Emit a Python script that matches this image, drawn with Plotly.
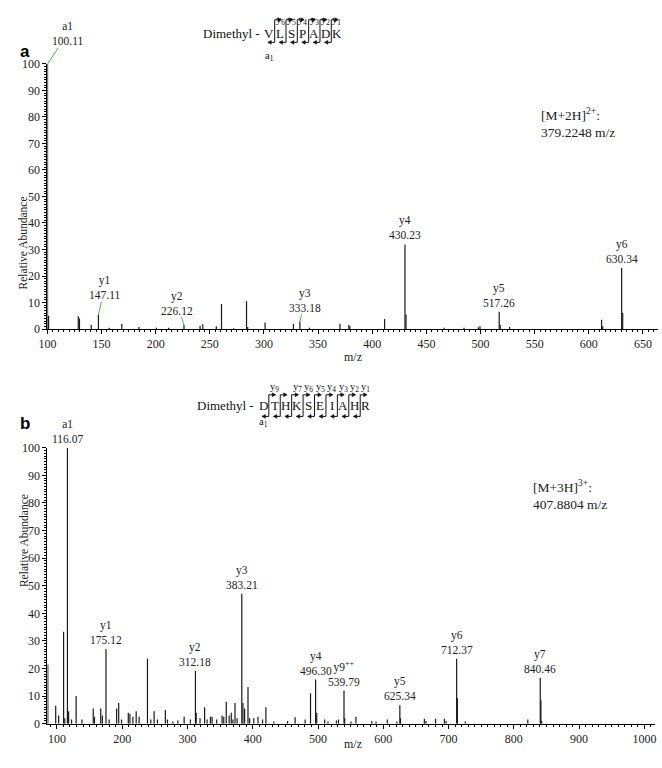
import plotly.graph_objects as go

# fig size
W, H = 662, 768

# ---- panel a : Dimethyl-VLSPADK ----
mz_a = [100.11, 101.1, 128.5, 129.6, 140.5, 147.11, 157.0, 168.7, 184.5, 200.7, 212.0,
        226.12, 241.0, 243.5, 256.0, 260.8, 272.0, 283.9, 285.0, 301.0, 327.2, 333.18,
        342.0, 370.2, 378.4, 379.4, 411.4, 430.23, 431.2, 466.4, 484.8, 498.0, 499.5,
        517.26, 518.2, 526.9, 611.8, 612.9, 630.34, 631.3]
ab_a = [100, 5, 4.8, 4, 1.5, 5.3, 0.5, 2, 0.8, 0.5, 0.5,
        1.5, 1.2, 1.8, 1, 9.4, 0.3, 10.6, 0.8, 2.5, 2, 2.8,
        0.5, 2, 1.5, 1, 3.8, 31.9, 5.5, 0.5, 0.5, 0.7, 1,
        6.5, 1.5, 0.8, 3.5, 1, 23, 6]
lab_a_mz = [100.11, 147.11, 226.12, 333.18, 430.23, 517.26, 630.34]
lab_a_ion = ["a1", "y1", "y2", "y3", "y4", "y5", "y6"]
pep_a = ["V", "L", "S", "P", "A", "D", "K"]
pep_a_y = ["6", "5", "4", "3", "2", "1"]
prec_a = "[M+2H]<sup>2+</sup>:<br>379.2248 m/z"

# ---- panel b : Dimethyl-DTHKSEIAHR ----
mz_b = [86.0, 98.1, 102.6, 110.2, 112.1, 116.07, 117.9, 122.4, 129.4, 138.3, 155.6, 157.5,
        167.1, 169.6, 175.12, 179.9, 191.4, 194.6, 199.0, 209.3, 211.8, 216.3, 221.4, 225.9,
        238.7, 243.8, 248.9, 254.0, 266.1, 269.3, 277.6, 285.3, 294.9, 304.5, 312.18, 313.4,
        319.2, 326.2, 330.0, 335.1, 337.7, 344.7, 353.0, 355.6, 359.4, 363.9, 367.1, 369.6,
        372.8, 376.0, 383.21, 385.0, 387.5, 392.7, 395.2, 401.6, 408.0, 415.0, 420.1, 432.3,
        453.4, 464.9, 480.2, 488.5, 496.30, 498.0, 510.2, 515.3, 528.1, 531.3, 539.79, 540.9,
        550.5, 558.1, 582.4, 588.8, 606.1, 620.8, 625.34, 626.3, 662.9, 665.5, 680.2, 693.6,
        696.2, 712.37, 713.5, 725.6, 821.4, 840.46, 841.5, 842.6]
ab_b = [21.5, 6.5, 3, 33.3, 2, 100, 4.5, 1.5, 10, 1.5, 5.5, 2.5,
        5.5, 3, 27, 1.5, 5.5, 7.5, 1.5, 4, 3.5, 2.5, 4.5, 2.5,
        23.5, 1.5, 4.5, 1.5, 5, 1.5, 0.8, 1.2, 2.5, 1.5, 19.2, 4,
        2, 6, 1.5, 2.5, 2.5, 1.5, 3, 2.5, 8, 3, 4, 1.5,
        7.5, 2, 47, 7.5, 5.5, 13.3, 2, 2, 2.5, 1.5, 6, 0.8,
        1, 2.3, 1.5, 11, 16, 4, 1.5, 0.8, 1.2, 1.5, 12, 2,
        0.8, 2.5, 1, 0.8, 1.5, 0.8, 6.7, 2, 1.8, 1, 1.8, 1.8,
        1, 23.5, 9.2, 0.8, 1.5, 16.7, 8.5, 1]
lab_b_mz = [116.07, 175.12, 312.18, 383.21, 496.30, 539.79, 625.34, 712.37, 840.46]
lab_b_ion = ["a1", "y1", "y2", "y3", "y4", "y9<sup>++</sup>", "y5", "y6", "y7"]
pep_b = ["D", "T", "H", "K", "S", "E", "I", "A", "H", "R"]
pep_b_y = ["9", "", "7", "6", "5", "4", "3", "2", "1"]
prec_b = "[M+3H]<sup>3+</sup>:<br>407.8804 m/z"

SERIF = "Liberation Serif"
GREEN = "#45bf45"


def px(x):
    return x / W


def py(y):
    return 1 - y / H


def sticks(mz, ab):
    xs, ys = [], []
    for m, a in zip(mz, ab):
        xs += [m, m, None]
        ys += [0, a, None]
    return xs, ys


fig = go.Figure()
for mz, ab, xa, ya in [(mz_a, ab_a, "x", "y"), (mz_b, ab_b, "x2", "y2")]:
    xs, ys = sticks(mz, ab)
    fig.add_trace(go.Scatter(x=xs, y=ys, mode="lines", xaxis=xa, yaxis=ya,
                             line=dict(color="#1a1a1a", width=1.2),
                             hoverinfo="skip", showlegend=False))

ax_style = dict(showline=True, linecolor="black", linewidth=1, ticks="outside",
                ticklen=4, tickwidth=1, tickcolor="black", showgrid=False, zeroline=False,
                tickfont=dict(family=SERIF, size=12, color="#222"))

fig.update_layout(
    width=W, height=H, margin=dict(l=0, r=0, t=0, b=0),
    plot_bgcolor="white", paper_bgcolor="white",
    xaxis=dict(ax_style, domain=[px(39), px(658.5)], range=[100, 663.5], anchor="y",
               dtick=50, tick0=100,
               minor=dict(dtick=5, ticks="outside", ticklen=2, tickcolor="black")),
    yaxis=dict(ax_style, domain=[py(328), py(58)], range=[0, 100], anchor="x",
               dtick=10, minor=dict(dtick=1, ticks="outside", ticklen=2, tickcolor="black")),
    xaxis2=dict(ax_style, domain=[px(39), px(656.4)], range=[85.4, 1017], anchor="y2",
                dtick=100, tick0=100,
                minor=dict(dtick=10, ticks="outside", ticklen=2, tickcolor="black")),
    yaxis2=dict(ax_style, domain=[py(730), py(449)], range=[0, 100], anchor="x2",
                dtick=10, minor=dict(dtick=1, ticks="outside", ticklen=2, tickcolor="black")),
)

ann = []
shapes = []

# leader-line offsets (pixels) for the labels with green lines in panel a
leaders = {"a1": (20, -30), "y1": (6, -27), "y2": (-7, -22), "y3": (5, -21.5)}


def peak_labels(mz, ab, lab_mz, lab_ion, xr, yr, lead):
    h = dict(zip(mz, ab))
    for m, ion in zip(lab_mz, lab_ion):
        txt = ion + "<br>" + f"{m:.2f}"
        base = dict(x=m, y=h[m], xref=xr, yref=yr, text=txt,
                    font=dict(family=SERIF, size=11.5, color="#222"))
        if ion in lead:
            dx, dy = lead[ion]
            ann.append(dict(base, showarrow=True, arrowhead=0, arrowwidth=1, borderpad=0,
                            arrowcolor=GREEN, ax=dx, ay=dy, standoff=0))
        else:
            ann.append(dict(base, showarrow=False, yanchor="bottom", yshift=1))


peak_labels(mz_a, ab_a, lab_a_mz, lab_a_ion, "x", "y", leaders)
peak_labels(mz_b, ab_b, lab_b_mz, lab_b_ion, "x2", "y2", {})


def line(x0, y0, x1, y1):
    shapes.append(dict(type="line", xref="paper", yref="paper", x0=px(x0), x1=px(x1),
                       y0=py(y0), y1=py(y1), line=dict(color="#111", width=1)))


def head(xt, y, d):
    # small filled arrow head, tip at xt, pointing right (d=1) or left (d=-1)
    b = xt - d * 3.5
    path = (f"M {px(xt)},{py(y)} L {px(b)},{py(y - 2)} L {px(b)},{py(y + 2)} Z")
    shapes.append(dict(type="path", xref="paper", yref="paper", path=path,
                       fillcolor="#111", line=dict(color="#111", width=0.5)))


def peptide(letters, ylabs, x0, pitch, y_let, y_lab, y_a1, y_top, y_bot):
    f = dict(family=SERIF, size=13, color="#111")
    ann.append(dict(x=px(x0 - 7), y=py(y_let), xref="paper", yref="paper", text="Dimethyl -",
                    showarrow=False, xanchor="right", yanchor="middle", font=f))
    for i, c in enumerate(letters):
        ann.append(dict(x=px(x0 + i * pitch), y=py(y_let), xref="paper", yref="paper", text=c,
                        showarrow=False, xanchor="center", yanchor="middle", font=f,
                        borderpad=0))
    for i, yl in enumerate(ylabs):
        xb = x0 + (i + 0.5) * pitch
        line(xb, y_top, xb, y_bot)
        line(xb, y_top, xb + 6.5, y_top)
        head(xb + 7, y_top, 1)
        line(xb, y_bot, xb - 6.5, y_bot)
        head(xb - 7, y_bot, -1)
        if yl:
            ann.append(dict(x=px(xb + pitch / 2), y=py(y_lab), xref="paper", yref="paper",
                            text="y<sub>" + yl + "</sub>", showarrow=False, borderpad=0,
                            font=dict(family=SERIF, size=10.5, color="#111")))
    ann.append(dict(x=px(x0), y=py(y_a1), xref="paper", yref="paper",
                    text="a<sub>1</sub>", showarrow=False, borderpad=0,
                    font=dict(family=SERIF, size=10.5, color="#111")))


peptide(pep_a, pep_a_y, 264, 11.5, 27, 6.5, 43, 13, 36)
peptide(pep_b, pep_b_y, 258, 11.6, 406, 388, 423, 395, 417)

# precursor info
for txt, x, y in [(prec_a, 538, 118), (prec_b, 530, 497)]:
    ann.append(dict(x=px(x), y=py(y), xref="paper", yref="paper", text=txt, align="left",
                    showarrow=False, xanchor="left", yanchor="middle",
                    font=dict(family=SERIF, size=13.5, color="#222")))

# axis titles + panel letters
for y in [356, 760]:
    ann.append(dict(x=px(349.5), y=py(y), xref="paper", yref="paper", text="m/z",
                    showarrow=False, font=dict(family=SERIF, size=12, color="#222")))
for y in [191, 593]:
    ann.append(dict(x=px(6.5), y=py(y), xref="paper", yref="paper", text="Relative Abundance",
                    textangle=-90, showarrow=False,
                    font=dict(family=SERIF, size=11.5, color="#222")))
for t, y in [("a", 34), ("b", 424)]:
    ann.append(dict(x=px(9), y=py(y), xref="paper", yref="paper", text="<b>" + t + "</b>",
                    showarrow=False, font=dict(family="Liberation Sans", size=17, color="black")))

fig.update_layout(annotations=ann, shapes=shapes)
# page body has an 8px default margin; drop it so the figure sits at the window corner
fig.write_html("out.html", config={"displayModeBar": False},
               post_script="document.body.style.margin='0px';")
